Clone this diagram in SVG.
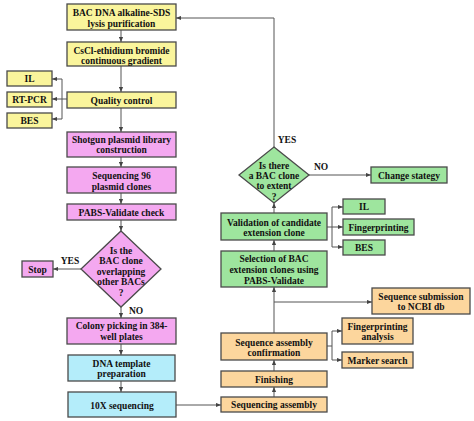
<svg xmlns="http://www.w3.org/2000/svg" width="474" height="421" viewBox="0 0 474 421">
<style>
rect,polygon{stroke:#4a4a4a;stroke-width:1.3}
.y{fill:#FAF59C}.p{fill:#F4A8F0}.b{fill:#B4EDFA}.g{fill:#9EE59E}.o{fill:#FCD69D}
text{font-family:"Liberation Serif","Times New Roman",serif;font-weight:bold;font-size:9.5px;fill:#111;text-anchor:middle}
.c path,.c line,.c polyline{stroke:#555;stroke-width:1;fill:none}
</style>
<defs>
<marker id="a" viewBox="0 0 6 6" refX="6" refY="3" markerWidth="5" markerHeight="5" orient="auto"><path d="M0,0.5 L6,3 L0,5.5 Z" fill="#444"/></marker>
</defs>
<g class="c">
<line x1="121" y1="30" x2="121" y2="42" marker-end="url(#a)"/>
<line x1="121" y1="66" x2="121" y2="92" marker-end="url(#a)"/>
<line x1="67" y1="99" x2="52" y2="99" marker-end="url(#a)"/>
<polyline points="62,99 62,79 52,79" marker-end="url(#a)"/>
<polyline points="62,99 62,119 52,119" marker-end="url(#a)"/>
<line x1="121" y1="108" x2="121" y2="132" marker-end="url(#a)"/>
<line x1="121" y1="157" x2="121" y2="167" marker-end="url(#a)"/>
<line x1="121" y1="193" x2="121" y2="204" marker-end="url(#a)"/>
<line x1="121" y1="220" x2="121" y2="231" marker-end="url(#a)"/>
<line x1="81" y1="269" x2="53" y2="269" marker-end="url(#a)"/>
<line x1="121" y1="307" x2="121" y2="318" marker-end="url(#a)"/>
<line x1="121" y1="344" x2="121" y2="355" marker-end="url(#a)"/>
<line x1="121" y1="381" x2="121" y2="392" marker-end="url(#a)"/>
<line x1="176" y1="405" x2="221" y2="405" marker-end="url(#a)"/>
<line x1="274" y1="397" x2="274" y2="387" marker-end="url(#a)"/>
<line x1="274" y1="371" x2="274" y2="360" marker-end="url(#a)"/>
<line x1="327" y1="346" x2="332" y2="346"/>
<polyline points="332,346 332,331 342,331" marker-end="url(#a)"/>
<polyline points="332,346 332,360 342,360" marker-end="url(#a)"/>
<line x1="274" y1="333" x2="274" y2="287" marker-end="url(#a)"/>
<line x1="274" y1="302" x2="372" y2="302" marker-end="url(#a)"/>
<line x1="274" y1="251" x2="274" y2="240" marker-end="url(#a)"/>
<line x1="327" y1="227" x2="343" y2="227" marker-end="url(#a)"/>
<polyline points="332,227 332,207 343,207" marker-end="url(#a)"/>
<polyline points="332,227 332,247 343,247" marker-end="url(#a)"/>
<line x1="274" y1="213" x2="274" y2="203" marker-end="url(#a)"/>
<line x1="309" y1="175" x2="371" y2="175" marker-end="url(#a)"/>
<polyline points="274,147 274,18 176,18" marker-end="url(#a)"/>
</g>
<g id="n-bac"><rect class="y" x="67" y="4" width="109" height="26"/><text x="121.5" y="16">BAC DNA alkaline-SDS</text><text x="121.5" y="26.5">lysis purification</text></g>
<g id="n-cscl"><rect class="y" x="67" y="42" width="109" height="24"/><text x="121.5" y="53.5">CsCl-ethidium bromide</text><text x="121.5" y="64">continuous gradient</text></g>
<g id="n-il1"><rect class="y" x="7" y="71" width="45" height="15"/><text x="29.5" y="82">IL</text></g>
<g id="n-rtpcr"><rect class="y" x="7" y="92" width="45" height="15"/><text x="29.5" y="103">RT-PCR</text></g>
<g id="n-bes1"><rect class="y" x="7" y="113" width="45" height="15"/><text x="29.5" y="124">BES</text></g>
<g id="n-qc"><rect class="y" x="67" y="92" width="109" height="16"/><text x="121.5" y="103.5">Quality control</text></g>
<g id="n-shotgun"><rect class="p" x="67" y="132" width="109" height="25"/><text x="121.5" y="142.5">Shotgun plasmid library</text><text x="121.5" y="153">construction</text></g>
<g id="n-seq96"><rect class="p" x="67" y="167" width="109" height="26"/><text x="121.5" y="178.5">Sequencing 96</text><text x="121.5" y="189.5">plasmid clones</text></g>
<g id="n-pabs"><rect class="p" x="67" y="204" width="109" height="16"/><text x="121.5" y="215.5">PABS-Validate check</text></g>
<g id="n-dec1"><polygon class="p" points="121,231 161,269 121,307 81,269"/><text x="121" y="253.5">Is the</text><text x="121" y="264">BAC clone</text><text x="121" y="274.5">overlapping</text><text x="121" y="285">other BACs</text><text x="121" y="295.5">?</text></g>
<g id="n-stop"><rect class="p" x="22" y="261" width="31" height="16"/><text x="37.5" y="272.5">Stop</text></g>
<g id="n-colony"><rect class="p" x="67" y="318" width="109" height="26"/><text x="121.5" y="329">Colony picking in 384-</text><text x="121.5" y="340">well plates</text></g>
<g id="n-dna"><rect class="b" x="68" y="355" width="107" height="26"/><text x="121.5" y="366.5">DNA template</text><text x="121.5" y="377">preparation</text></g>
<g id="n-10x"><rect class="b" x="68" y="392" width="108" height="25"/><text x="122" y="408.5">10X sequencing</text></g>
<g id="n-seqasm"><rect class="o" x="221" y="397" width="106" height="15"/><text x="274" y="408">Sequencing assembly</text></g>
<g id="n-finish"><rect class="o" x="221" y="371" width="106" height="16"/><text x="274" y="382.5">Finishing</text></g>
<g id="n-confirm"><rect class="o" x="221" y="333" width="106" height="27"/><text x="274" y="345.5">Sequence assembly</text><text x="274" y="356">confirmation</text></g>
<g id="n-fpa"><rect class="o" x="342" y="318" width="71" height="26"/><text x="377.5" y="329.5">Fingerprinting</text><text x="377.5" y="340">analysis</text></g>
<g id="n-marker"><rect class="o" x="342" y="352" width="71" height="16"/><text x="377.5" y="363.5">Marker search</text></g>
<g id="n-ncbi"><rect class="o" x="372" y="288" width="98" height="26"/><text x="421" y="299.5">Sequence submission</text><text x="421" y="310">to NCBI db</text></g>
<g id="n-select"><rect class="g" x="221" y="251" width="106" height="36"/><text x="274" y="262">Selection of BAC</text><text x="274" y="273">extension clones using</text><text x="274" y="283.5">PABS-Validate</text></g>
<g id="n-valid"><rect class="g" x="221" y="213" width="106" height="27"/><text x="274" y="225.5">Validation of candidate</text><text x="274" y="236">extension clone</text></g>
<g id="n-il2"><rect class="g" x="343" y="199" width="42" height="15"/><text x="364" y="210">IL</text></g>
<g id="n-fp2"><rect class="g" x="343" y="219" width="71" height="16"/><text x="378.5" y="230.5">Fingerprinting</text></g>
<g id="n-bes2"><rect class="g" x="343" y="240" width="42" height="15"/><text x="364" y="251">BES</text></g>
<g id="n-dec2"><polygon class="g" points="274,147 309,175 274,203 239,175"/><text x="274" y="168.5">Is there</text><text x="274" y="178.5">a BAC clone</text><text x="274" y="189">to extent</text><text x="274" y="199.5">?</text></g>
<g id="n-change"><rect class="g" x="371" y="167" width="76" height="16"/><text x="409" y="178.5">Change stategy</text></g>
<g id="labels"><text x="70" y="264">YES</text><text x="136" y="314">NO</text><text x="287" y="143">YES</text><text x="321" y="170">NO</text></g>
</svg>
